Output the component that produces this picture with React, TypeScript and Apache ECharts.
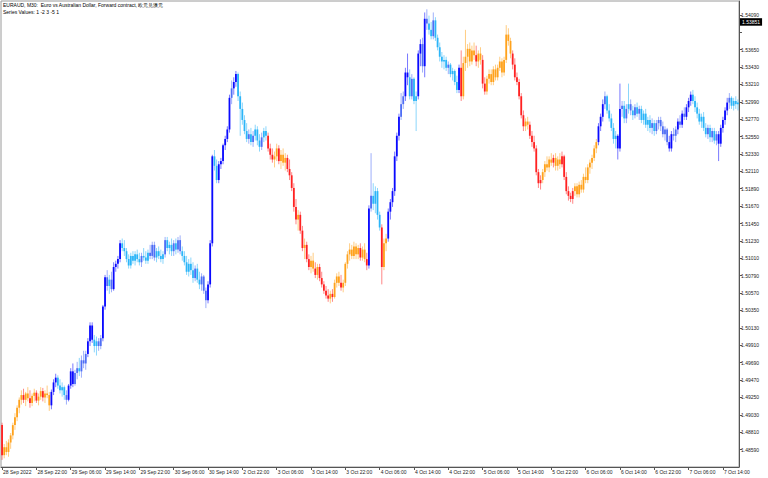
import React, { useEffect, useRef } from "react";
import * as echarts from "echarts";

const titleLine1 = "EURAUD, M30:  Euro vs Australian Dollar, Forward contract, 欧元兑澳元";
const titleLine2 = "Series Values: 1 -2 3 -5 1";

const timeLabels = [
  "28 Sep 2022", "28 Sep 22:00", "29 Sep 06:00", "29 Sep 14:00", "29 Sep 22:00",
  "30 Sep 06:00", "30 Sep 14:00", "2 Oct 22:00", "3 Oct 06:00", "3 Oct 14:00",
  "3 Oct 22:00", "4 Oct 06:00", "4 Oct 14:00", "4 Oct 22:00", "5 Oct 06:00",
  "5 Oct 14:00", "5 Oct 22:00", "6 Oct 06:00", "6 Oct 14:00", "6 Oct 22:00",
  "7 Oct 06:00", "7 Oct 14:00",
];
const barsPerLabel = 16;

const priceMin = 1.4837;
const priceMax = 1.54265;
const priceStep = 0.0022;
const currentPrice = 1.53851;

const opens = [
  1.4890,1.4852,1.4862,1.4856,1.4868,1.4877,1.4890,1.4900,1.4912,1.4922,
  1.4928,1.4922,1.4930,1.4924,1.4918,1.4927,1.4931,1.4921,1.4926,1.4933,
  1.4925,1.4930,1.4928,1.4915,1.4932,1.4944,1.4950,1.4940,1.4934,1.4938,
  1.4928,1.4922,1.4940,1.4958,1.4942,1.4956,1.4962,1.4958,1.4972,1.4968,
  1.4980,1.4996,1.5016,1.4998,1.4990,1.4996,1.4990,1.5000,1.5040,1.5077,
  1.5066,1.5074,1.5062,1.5090,1.5094,1.5100,1.5120,1.5114,1.5110,1.5100,
  1.5092,1.5104,1.5098,1.5106,1.5100,1.5096,1.5104,1.5102,1.5098,1.5108,
  1.5104,1.5118,1.5102,1.5110,1.5104,1.5100,1.5106,1.5124,1.5114,1.5118,
  1.5110,1.5120,1.5112,1.5124,1.5110,1.5104,1.5096,1.5084,1.5094,1.5086,
  1.5076,1.5088,1.5074,1.5068,1.5078,1.5060,1.5048,1.5068,1.5120,1.5230,
  1.5218,1.5200,1.5220,1.5224,1.5244,1.5252,1.5264,1.5304,1.5316,1.5324,
  1.5334,1.5306,1.5290,1.5276,1.5262,1.5252,1.5258,1.5248,1.5256,1.5264,
  1.5250,1.5242,1.5254,1.5262,1.5256,1.5240,1.5232,1.5226,1.5230,1.5240,
  1.5224,1.5232,1.5222,1.5228,1.5214,1.5206,1.5190,1.5166,1.5150,1.5156,
  1.5136,1.5114,1.5118,1.5100,1.5090,1.5098,1.5088,1.5080,1.5090,1.5076,
  1.5068,1.5060,1.5054,1.5050,1.5056,1.5052,1.5070,1.5078,1.5070,1.5064,
  1.5070,1.5094,1.5106,1.5112,1.5104,1.5116,1.5106,1.5114,1.5102,1.5112,
  1.5100,1.5092,1.5164,1.5180,1.5170,1.5186,1.5156,1.5140,1.5090,1.5120,
  1.5126,1.5160,1.5172,1.5186,1.5230,1.5256,1.5280,1.5296,1.5306,1.5336,
  1.5330,1.5306,1.5328,1.5300,1.5306,1.5360,1.5372,1.5344,1.5404,1.5398,
  1.5390,1.5382,1.5402,1.5380,1.5368,1.5356,1.5350,1.5352,1.5342,1.5346,
  1.5334,1.5338,1.5324,1.5314,1.5342,1.5306,1.5348,1.5356,1.5366,1.5350,
  1.5364,1.5358,1.5350,1.5360,1.5352,1.5322,1.5312,1.5328,1.5334,1.5324,
  1.5340,1.5330,1.5342,1.5350,1.5336,1.5352,1.5384,1.5376,1.5360,1.5346,
  1.5330,1.5324,1.5306,1.5282,1.5268,1.5274,1.5270,1.5256,1.5248,1.5240,
  1.5210,1.5196,1.5200,1.5210,1.5220,1.5216,1.5226,1.5222,1.5228,1.5218,
  1.5226,1.5220,1.5230,1.5204,1.5186,1.5180,1.5176,1.5186,1.5192,1.5182,
  1.5194,1.5188,1.5204,1.5200,1.5216,1.5222,1.5228,1.5240,1.5248,1.5268,
  1.5280,1.5296,1.5306,1.5288,1.5278,1.5266,1.5252,1.5256,1.5240,1.5290,
  1.5294,1.5278,1.5290,1.5296,1.5288,1.5282,1.5292,1.5284,1.5290,1.5276,
  1.5284,1.5270,1.5276,1.5266,1.5272,1.5262,1.5272,1.5276,1.5268,1.5258,
  1.5264,1.5248,1.5240,1.5258,1.5256,1.5264,1.5274,1.5270,1.5284,1.5280,
  1.5292,1.5300,1.5308,1.5300,1.5292,1.5284,1.5274,1.5280,1.5266,1.5258,
  1.5266,1.5254,1.5262,1.5250,1.5258,1.5246,1.5266,1.5276,1.5288,1.5298,
  1.5304,1.5294,1.5300,1.5296,
];

const highs = [
  1.4893,1.4866,1.4870,1.4872,1.4880,1.4893,1.4905,1.4915,1.4925,1.4934,
  1.4936,1.4932,1.4938,1.4934,1.4930,1.4936,1.4934,1.4930,1.4938,1.4937,
  1.4934,1.4940,1.4932,1.4935,1.4948,1.4955,1.4953,1.4948,1.4944,1.4940,
  1.4934,1.4942,1.4962,1.4968,1.4960,1.4970,1.4975,1.4978,1.4984,1.4984,
  1.5000,1.5020,1.5020,1.5004,1.5002,1.5000,1.5004,1.5042,1.5080,1.5086,
  1.5080,1.5084,1.5096,1.5098,1.5104,1.5124,1.5126,1.5124,1.5114,1.5106,
  1.5108,1.5110,1.5110,1.5112,1.5108,1.5108,1.5114,1.5110,1.5112,1.5118,
  1.5122,1.5122,1.5114,1.5116,1.5112,1.5110,1.5128,1.5128,1.5122,1.5126,
  1.5124,1.5126,1.5128,1.5130,1.5116,1.5110,1.5104,1.5100,1.5102,1.5096,
  1.5092,1.5094,1.5084,1.5082,1.5080,1.5064,1.5072,1.5124,1.5232,1.5238,
  1.5226,1.5224,1.5228,1.5246,1.5256,1.5268,1.5308,1.5326,1.5330,1.5338,
  1.5336,1.5312,1.5298,1.5282,1.5272,1.5264,1.5266,1.5262,1.5270,1.5268,
  1.5258,1.5260,1.5266,1.5268,1.5260,1.5246,1.5240,1.5236,1.5246,1.5244,
  1.5238,1.5240,1.5234,1.5232,1.5226,1.5210,1.5196,1.5176,1.5162,1.5160,
  1.5142,1.5126,1.5122,1.5106,1.5104,1.5108,1.5096,1.5094,1.5094,1.5084,
  1.5072,1.5066,1.5062,1.5060,1.5062,1.5074,1.5082,1.5084,1.5080,1.5074,
  1.5096,1.5110,1.5120,1.5118,1.5122,1.5120,1.5118,1.5120,1.5116,1.5120,
  1.5108,1.5168,1.5234,1.5196,1.5192,1.5190,1.5160,1.5144,1.5126,1.5132,
  1.5164,1.5176,1.5190,1.5236,1.5260,1.5284,1.5310,1.5312,1.5342,1.5360,
  1.5340,1.5334,1.5330,1.5312,1.5364,1.5378,1.5380,1.5412,1.5416,1.5408,
  1.5400,1.5412,1.5406,1.5384,1.5374,1.5362,1.5358,1.5356,1.5350,1.5348,
  1.5342,1.5340,1.5332,1.5346,1.5364,1.5356,1.5390,1.5372,1.5374,1.5370,
  1.5374,1.5370,1.5364,1.5368,1.5358,1.5330,1.5332,1.5340,1.5340,1.5344,
  1.5346,1.5346,1.5356,1.5354,1.5356,1.5396,1.5392,1.5380,1.5364,1.5354,
  1.5336,1.5328,1.5310,1.5288,1.5278,1.5280,1.5274,1.5262,1.5256,1.5244,
  1.5214,1.5206,1.5214,1.5224,1.5230,1.5230,1.5234,1.5232,1.5234,1.5230,
  1.5234,1.5236,1.5232,1.5210,1.5192,1.5184,1.5190,1.5196,1.5196,1.5198,
  1.5200,1.5208,1.5216,1.5220,1.5226,1.5232,1.5244,1.5252,1.5272,1.5284,
  1.5302,1.5312,1.5308,1.5296,1.5284,1.5272,1.5262,1.5258,1.5322,1.5300,
  1.5300,1.5296,1.5322,1.5302,1.5294,1.5296,1.5298,1.5294,1.5294,1.5288,
  1.5290,1.5280,1.5282,1.5278,1.5276,1.5276,1.5280,1.5280,1.5274,1.5268,
  1.5266,1.5256,1.5262,1.5266,1.5268,1.5278,1.5282,1.5288,1.5292,1.5296,
  1.5304,1.5312,1.5314,1.5306,1.5298,1.5290,1.5284,1.5286,1.5272,1.5270,
  1.5270,1.5266,1.5266,1.5262,1.5262,1.5270,1.5280,1.5292,1.5304,1.5310,
  1.5306,1.5304,1.5306,1.5302,
];

const lows = [
  1.4846,1.4848,1.4852,1.4850,1.4860,1.4872,1.4884,1.4895,1.4905,1.4916,
  1.4918,1.4914,1.4920,1.4912,1.4914,1.4920,1.4918,1.4915,1.4922,1.4920,
  1.4918,1.4924,1.4908,1.4910,1.4928,1.4938,1.4936,1.4930,1.4926,1.4922,
  1.4916,1.4920,1.4936,1.4938,1.4940,1.4948,1.4952,1.4950,1.4962,1.4960,
  1.4976,1.4990,1.4994,1.4982,1.4978,1.4984,1.4986,1.4996,1.5036,1.5060,
  1.5056,1.5058,1.5060,1.5084,1.5088,1.5096,1.5110,1.5104,1.5096,1.5088,
  1.5088,1.5094,1.5092,1.5096,1.5092,1.5090,1.5098,1.5094,1.5094,1.5100,
  1.5100,1.5098,1.5096,1.5100,1.5096,1.5094,1.5102,1.5110,1.5106,1.5104,
  1.5104,1.5106,1.5108,1.5106,1.5098,1.5092,1.5080,1.5078,1.5080,1.5070,
  1.5072,1.5070,1.5062,1.5060,1.5056,1.5038,1.5044,1.5064,1.5116,1.5212,
  1.5196,1.5196,1.5214,1.5220,1.5238,1.5248,1.5260,1.5296,1.5308,1.5318,
  1.5300,1.5256,1.5270,1.5258,1.5248,1.5246,1.5244,1.5242,1.5250,1.5244,
  1.5236,1.5238,1.5248,1.5250,1.5236,1.5226,1.5222,1.5216,1.5224,1.5220,
  1.5214,1.5218,1.5212,1.5210,1.5200,1.5186,1.5160,1.5144,1.5136,1.5132,
  1.5110,1.5100,1.5096,1.5086,1.5082,1.5084,1.5076,1.5074,1.5072,1.5064,
  1.5056,1.5050,1.5046,1.5044,1.5046,1.5050,1.5064,1.5066,1.5060,1.5058,
  1.5066,1.5088,1.5098,1.5100,1.5100,1.5100,1.5100,1.5098,1.5098,1.5096,
  1.5086,1.5088,1.5160,1.5162,1.5158,1.5150,1.5136,1.5068,1.5086,1.5110,
  1.5122,1.5150,1.5166,1.5180,1.5224,1.5250,1.5276,1.5290,1.5300,1.5320,
  1.5302,1.5302,1.5296,1.5262,1.5302,1.5344,1.5336,1.5330,1.5390,1.5384,
  1.5378,1.5378,1.5376,1.5364,1.5350,1.5342,1.5340,1.5338,1.5334,1.5330,
  1.5326,1.5320,1.5310,1.5310,1.5300,1.5302,1.5338,1.5342,1.5344,1.5346,
  1.5352,1.5344,1.5342,1.5346,1.5316,1.5308,1.5308,1.5322,1.5320,1.5320,
  1.5326,1.5326,1.5338,1.5330,1.5332,1.5348,1.5370,1.5354,1.5340,1.5326,
  1.5320,1.5302,1.5278,1.5262,1.5262,1.5264,1.5252,1.5242,1.5236,1.5206,
  1.5190,1.5188,1.5196,1.5204,1.5212,1.5210,1.5218,1.5216,1.5212,1.5212,
  1.5214,1.5216,1.5200,1.5182,1.5174,1.5172,1.5170,1.5180,1.5178,1.5178,
  1.5184,1.5184,1.5196,1.5196,1.5208,1.5214,1.5224,1.5234,1.5244,1.5262,
  1.5274,1.5290,1.5284,1.5274,1.5262,1.5246,1.5240,1.5226,1.5236,1.5280,
  1.5272,1.5272,1.5284,1.5282,1.5276,1.5278,1.5280,1.5276,1.5272,1.5270,
  1.5266,1.5262,1.5260,1.5258,1.5256,1.5258,1.5264,1.5262,1.5254,1.5250,
  1.5244,1.5236,1.5236,1.5250,1.5248,1.5258,1.5266,1.5266,1.5276,1.5276,
  1.5286,1.5294,1.5296,1.5286,1.5278,1.5270,1.5266,1.5262,1.5254,1.5252,
  1.5248,1.5248,1.5246,1.5244,1.5224,1.5242,1.5260,1.5270,1.5282,1.5290,
  1.5290,1.5288,1.5290,1.5288,
];

const closes = [
  1.4852,1.4862,1.4856,1.4868,1.4877,1.4890,1.4900,1.4912,1.4922,1.4928,
  1.4922,1.4930,1.4924,1.4918,1.4927,1.4931,1.4921,1.4926,1.4933,1.4925,
  1.4930,1.4928,1.4915,1.4932,1.4944,1.4950,1.4940,1.4934,1.4938,1.4928,
  1.4922,1.4940,1.4958,1.4942,1.4956,1.4962,1.4958,1.4972,1.4968,1.4980,
  1.4996,1.5016,1.4998,1.4990,1.4996,1.4990,1.5000,1.5040,1.5077,1.5066,
  1.5074,1.5062,1.5090,1.5094,1.5100,1.5120,1.5114,1.5110,1.5100,1.5092,
  1.5104,1.5098,1.5106,1.5100,1.5096,1.5104,1.5102,1.5098,1.5108,1.5104,
  1.5118,1.5102,1.5110,1.5104,1.5100,1.5106,1.5124,1.5114,1.5118,1.5110,
  1.5120,1.5112,1.5124,1.5110,1.5104,1.5096,1.5084,1.5094,1.5086,1.5076,
  1.5088,1.5074,1.5068,1.5078,1.5060,1.5048,1.5068,1.5120,1.5230,1.5218,
  1.5200,1.5220,1.5224,1.5244,1.5252,1.5264,1.5304,1.5316,1.5324,1.5334,
  1.5306,1.5290,1.5276,1.5262,1.5252,1.5258,1.5248,1.5256,1.5264,1.5250,
  1.5242,1.5254,1.5262,1.5256,1.5240,1.5232,1.5226,1.5230,1.5240,1.5224,
  1.5232,1.5222,1.5228,1.5214,1.5206,1.5190,1.5166,1.5150,1.5156,1.5136,
  1.5114,1.5118,1.5100,1.5090,1.5098,1.5088,1.5080,1.5090,1.5076,1.5068,
  1.5060,1.5054,1.5050,1.5056,1.5052,1.5070,1.5078,1.5070,1.5064,1.5070,
  1.5094,1.5106,1.5112,1.5104,1.5116,1.5106,1.5114,1.5102,1.5112,1.5100,
  1.5092,1.5164,1.5180,1.5170,1.5186,1.5156,1.5140,1.5090,1.5120,1.5126,
  1.5160,1.5172,1.5186,1.5230,1.5256,1.5280,1.5296,1.5306,1.5336,1.5330,
  1.5306,1.5328,1.5300,1.5306,1.5360,1.5372,1.5344,1.5404,1.5398,1.5390,
  1.5382,1.5402,1.5380,1.5368,1.5356,1.5350,1.5352,1.5342,1.5346,1.5334,
  1.5338,1.5324,1.5314,1.5342,1.5306,1.5348,1.5356,1.5366,1.5350,1.5364,
  1.5358,1.5350,1.5360,1.5352,1.5322,1.5312,1.5328,1.5334,1.5324,1.5340,
  1.5330,1.5342,1.5350,1.5336,1.5352,1.5384,1.5376,1.5360,1.5346,1.5330,
  1.5324,1.5306,1.5282,1.5268,1.5274,1.5270,1.5256,1.5248,1.5240,1.5210,
  1.5196,1.5200,1.5210,1.5220,1.5216,1.5226,1.5222,1.5228,1.5218,1.5226,
  1.5220,1.5230,1.5204,1.5186,1.5180,1.5176,1.5186,1.5192,1.5182,1.5194,
  1.5188,1.5204,1.5200,1.5216,1.5222,1.5228,1.5240,1.5248,1.5268,1.5280,
  1.5296,1.5306,1.5288,1.5278,1.5266,1.5252,1.5256,1.5240,1.5290,1.5294,
  1.5278,1.5290,1.5296,1.5288,1.5282,1.5292,1.5284,1.5290,1.5276,1.5284,
  1.5270,1.5276,1.5266,1.5272,1.5262,1.5272,1.5276,1.5268,1.5258,1.5264,
  1.5248,1.5240,1.5258,1.5256,1.5264,1.5274,1.5270,1.5284,1.5280,1.5292,
  1.5300,1.5308,1.5300,1.5292,1.5284,1.5274,1.5280,1.5266,1.5258,1.5266,
  1.5254,1.5262,1.5250,1.5258,1.5246,1.5266,1.5276,1.5288,1.5298,1.5304,
  1.5294,1.5300,1.5296,1.5298,
];

// Colour state of each bar (B strong up, M up, C weak up, O weak down, R strong down)
const toneRows = [
  "ROOOOOOOOO", "ROOROOROOR", "OOOBBBCCCC", "MBBBMMCMMM", "BBBCCMMBBM",
  "CMBBBBCCCC", "CCCCCMCCCM", "MMCCCCMCCC", "MCMMCCCCCC", "MCCMMMBBBC",
  "CBBBBBBMBB", "CCCCCMCMCC", "CMCCRRROOR", "OOORRRRROR", "RORROORORR",
  "RRROROOORO", "OOOOOOOROO", "RBMCCCCROO", "BBBBBBMMBB", "CMCCBBMBMC",
  "CMCCCCCCMC", "CCCBROOOOO", "OROORROOOO", "OOOOOOOORR", "RRRROORRRR",
  "RROOOOOROO", "ORRRRRROOO", "OOOOOOOOBB", "BMCCCCCBBM", "CMCMCMCMCC",
  "CCCMCMMMMM", "MBBMMBMBMB", "BBCCCCCCCM", "CMCMBBBBBM", "CCCC",
];

const toneColors: Record<string, string> = {
  B: "#0a0aff",
  M: "#4f6ef5",
  C: "#2bb5f8",
  O: "#ffa21c",
  R: "#ff2222",
};

const FONT = "Liberation Sans, Arial, sans-serif";

export default function App() {
  const ref = useRef<HTMLDivElement>(null);

  useEffect(() => {
    if (!ref.current) return;
    const chart = echarts.init(ref.current, null, { renderer: "svg" });
    const tones = toneRows.join("").split("");
    const categories = closes.map((_, i) => String(i));
    const data = closes.map((c, i) => [i, opens[i], highs[i], lows[i], c]);

    const renderItem = (params: any, api: any) => {
      const idx = api.value(0);
      const pO = api.coord([idx, api.value(1)]);
      const yH = api.coord([idx, api.value(2)])[1];
      const yL = api.coord([idx, api.value(3)])[1];
      const yC = api.coord([idx, api.value(4)])[1];
      const x = pO[0];
      const yO = pO[1];
      const color = toneColors[tones[params.dataIndex]] || "#2bb5f8";
      const top = Math.min(yO, yC);
      const h = Math.max(1, Math.abs(yO - yC));
      return {
        type: "group",
        children: [
          {
            type: "line",
            shape: { x1: x, y1: yH, x2: x, y2: yL },
            style: { stroke: color, lineWidth: 1, opacity: 0.55 },
          },
          {
            type: "rect",
            shape: { x: x - 0.9, y: top, width: 1.8, height: h },
            style: { fill: color },
          },
        ],
      };
    };

    const showTick = (i: number) => i % barsPerLabel === 0;

    chart.setOption({
      animation: false,
      backgroundColor: "#ffffff",
      grid: {
        left: 1,
        right: 29,
        top: 1,
        bottom: 11,
        show: true,
        borderColor: "#9a9a9a",
        borderWidth: 1,
        containLabel: false,
      },
      xAxis: {
        type: "category",
        data: categories,
        boundaryGap: true,
        axisLine: { lineStyle: { color: "#555", width: 1 } },
        axisTick: {
          show: true,
          alignWithLabel: true,
          length: 3,
          interval: showTick,
          lineStyle: { color: "#555" },
        },
        axisLabel: {
          interval: showTick,
          formatter: (_v: string, i: number) => timeLabels[i / barsPerLabel] ?? "",
          align: "left",
          fontSize: 5,
          margin: 2,
          color: "#222",
          fontFamily: FONT,
          padding: [0, 0, 0, 1],
        },
        splitLine: { show: false },
      },
      yAxis: {
        type: "value",
        position: "right",
        min: priceMin,
        max: priceMax,
        interval: priceStep,
        axisLine: { show: true, lineStyle: { color: "#555", width: 1 } },
        axisTick: { show: true, length: 3, lineStyle: { color: "#555" } },
        axisLabel: {
          fontSize: 5,
          margin: 2,
          color: "#222",
          fontFamily: FONT,
          showMinLabel: false,
          showMaxLabel: false,
          formatter: (v: number) =>
            Math.abs(v - currentPrice) < 0.0008 ? "" : v.toFixed(5),
        },
        splitLine: { show: false },
      },
      graphic: [
        {
          type: "text",
          x: 3,
          y: 2,
          style: { text: titleLine1, fontSize: 5, fill: "#000", fontFamily: FONT },
          z: 10,
        },
        {
          type: "text",
          x: 3,
          y: 9,
          style: { text: titleLine2, fontSize: 5, fill: "#000", fontFamily: FONT },
          z: 10,
        },
      ],
      series: [
        {
          type: "custom",
          renderItem,
          data,
          encode: { x: 0, y: [1, 2, 3, 4] },
          clip: true,
          markLine: {
            silent: true,
            symbol: ["none", "none"],
            data: [{ yAxis: currentPrice }],
            lineStyle: { color: "rgba(0,0,0,0)", width: 0 },
            label: {
              show: true,
              position: "end",
              formatter: currentPrice.toFixed(5),
              color: "#fff",
              backgroundColor: "#000",
              fontSize: 5,
              fontFamily: FONT,
              padding: [1.5, 2, 1, 2],
              distance: 1,
            },
          },
        },
      ],
    });

    return () => chart.dispose();
  }, []);

  return (
    <div
      ref={ref}
      style={{ position: "fixed", left: 0, top: 0, width: 768, height: 478, background: "#fff" }}
    />
  );
}
